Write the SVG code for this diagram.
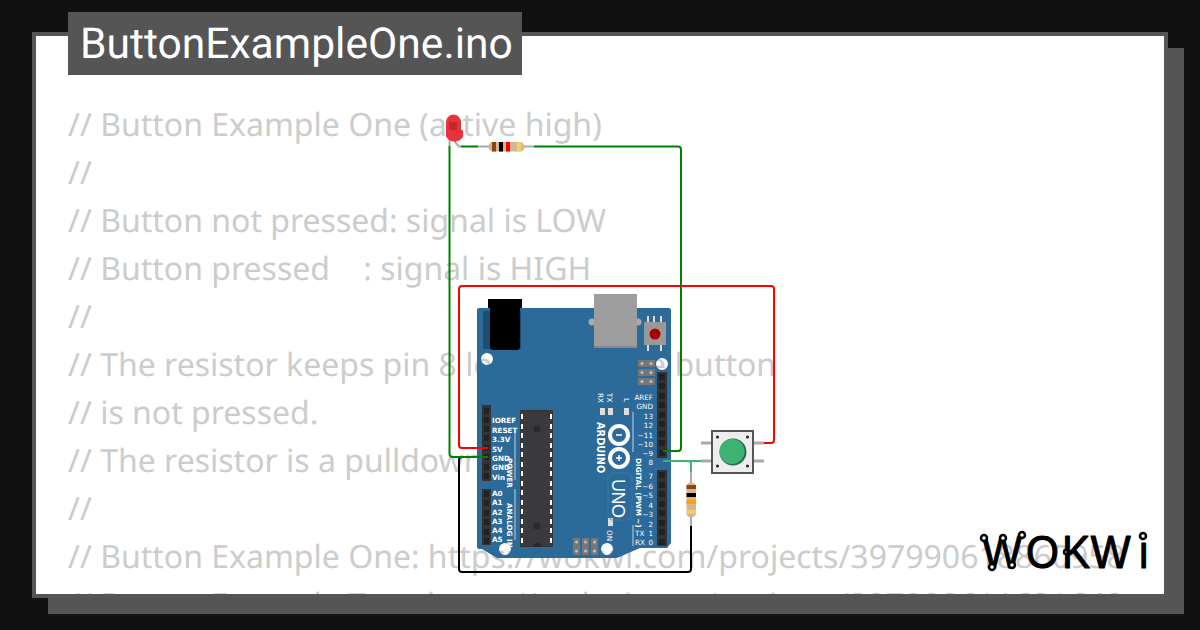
<svg xmlns="http://www.w3.org/2000/svg" width="1200" height="630" viewBox="0 0 1200 630">
<style>
.code{font:32px "Noto Sans",sans-serif;fill:#ccc;text-rendering:geometricPrecision}
.code text{opacity:.99}
.title{font:42.6px Roboto,sans-serif;fill:#fff;text-rendering:geometricPrecision}
.w{fill:none;stroke-width:2;stroke-linejoin:round}
.lead{stroke:#aaa;stroke-width:2;fill:none}
.pl{font:bold 7.2px "DejaVu Sans",sans-serif;fill:#fff}
.pr{font:7.2px "DejaVu Sans",sans-serif;fill:#fff}
.hdr{fill:#333}
.pin{fill:#222}
.sq{fill:#777}
.dot{fill:#c0c0c0}
.ic{fill:#fff}
.body{fill:#d5b597}
</style>
<rect width="1200" height="630" fill="#111"/>
<rect x="48" y="48" width="1136" height="566" fill="#555"/>
<rect x="32" y="32" width="1136" height="566" fill="#555"/>
<rect x="36" y="36" width="1128" height="558" fill="#fff"/>
<g id="code" class="code">
<text x="68" y="136">// Button Example One (active high)</text>
<text x="68" y="184">//</text>
<text x="68" y="232">// Button not pressed: signal is LOW</text>
<text x="68" y="280" xml:space="preserve">// Button pressed    : signal is HIGH</text>
<text x="68" y="328">//</text>
<text x="68" y="376">// The resistor keeps pin 8 low when the button</text>
<text x="68" y="424">// is not pressed.</text>
<text x="68" y="472">// The resistor is a pulldown resistor.</text>
<text x="68" y="520">//</text>
<text x="68" y="568">// Button Example One: https://wokwi.com/projects/397990618860958</text>
<svg x="0" y="0" width="1200" height="594" viewBox="0 0 1200 594"><text x="68" y="616">// Button Example Two: https://wokwi.com/projects/397990611631640</text></svg>
</g>
<g id="title"><rect x="68" y="12" width="454" height="63" fill="#555"/><text class="title" x="80" y="58">ButtonExampleOne.ino</text></g>

<g id="arduino">
<path fill-rule="evenodd" d="M479,308H669a2,2 0 0 1 2,2V543l-4,5H640l-23,10H497l-15,-9h-3a2,2 0 0 1 -2,-2V310a2,2 0 0 1 2,-2ZM481,359a6,6 0 1 0 12,0a6,6 0 1 0 -12,0ZM656,364a6,6 0 1 0 12,0a6,6 0 1 0 -12,0ZM499,549a6,6 0 1 0 12,0a6,6 0 1 0 -12,0ZM601,549a6,6 0 1 0 12,0a6,6 0 1 0 -12,0Z" fill="#2c6a9a"/>
<path d="M483,311H521V349H483Z" fill="#1f4d70"/>
<rect x="488" y="299" width="34" height="9" fill="#000"/>
<rect x="490" y="299" width="30" height="51" rx="3" fill="#000"/>
<circle cx="592" cy="322" r="3.500" fill="#aaa"/><circle cx="638" cy="322" r="3.500" fill="#aaa"/>
<rect x="594" y="294" width="43" height="54" fill="#9d9d9d"/><rect x="594" y="346" width="43" height="2" fill="#888"/>
<path d="M648,316v6M654,316v6M661,316v6M648,345v6M661,345v6" stroke="#ddd" stroke-width="2"/>
<rect x="644" y="322" width="22" height="23" fill="#999"/><circle cx="655" cy="334" r="5.500" fill="#a00"/>
<g class="sq"><rect x="638" y="360" width="17" height="7"/><rect x="638" y="369" width="17" height="7"/><rect x="638" y="378" width="17" height="7"/></g>
<g class="dot"><circle cx="642" cy="363.500" r="1.500"/><circle cx="651" cy="363.500" r="1.500"/><circle cx="642" cy="372.500" r="1.500"/><circle cx="651" cy="372.500" r="1.500"/><circle cx="642" cy="381.500" r="1.500"/><circle cx="651" cy="381.500" r="1.500"/></g>
<g class="sq"><rect x="573" y="538" width="7" height="17"/><rect x="582" y="538" width="7" height="17"/><rect x="591" y="538" width="7" height="17"/></g>
<g class="dot"><circle cx="576.500" cy="542" r="1.500"/><circle cx="576.500" cy="551" r="1.500"/><circle cx="585.500" cy="542" r="1.500"/><circle cx="585.500" cy="551" r="1.500"/><circle cx="594.500" cy="542" r="1.500"/><circle cx="594.500" cy="551" r="1.500"/></g>
<g class="hdr"><rect x="482" y="405" width="9" height="76"/><rect x="482" y="489" width="9" height="56"/><rect x="657" y="372" width="10" height="86"/><rect x="657" y="470" width="10" height="76"/></g>
<g class="pin"><path d="M484,408h5v6h-5zM484,417h5v6h-5zM484,426h5v6h-5zM484,435h5v6h-5zM484,445h5v6h-5zM484,454h5v6h-5zM484,464h5v6h-5zM484,473h5v6h-5zM484,491h5v6h-5zM484,500h5v6h-5zM484,510h5v6h-5zM484,519h5v6h-5zM484,529h5v6h-5zM484,538h5v6h-5zM659,374h6v6h-6zM659,383h6v6h-6zM659,393h6v6h-6zM659,402h6v6h-6zM659,412h6v6h-6zM659,421h6v6h-6zM659,431h6v6h-6zM659,440h6v6h-6zM659,450h6v6h-6zM659,472h6v6h-6zM659,482h6v6h-6zM659,491h6v6h-6zM659,501h6v6h-6zM659,510h6v6h-6zM659,520h6v6h-6zM659,529h6v6h-6zM659,539h6v6h-6z"/></g>
<g class="pl">
<text x="492" y="423">IOREF</text><text x="492" y="433">RESET</text><text x="492" y="442">3.3V</text><text x="492" y="452">5V</text><text x="492" y="461">GND</text><text x="492" y="470">GND</text><text x="492" y="480">Vin</text>
<text x="492" y="496">A0</text><text x="492" y="505">A1</text><text x="492" y="515">A2</text><text x="492" y="524">A3</text><text x="492" y="533">A4</text><text x="492" y="542">A5</text>
<text transform="translate(507,458) rotate(90)">POWER</text><text transform="translate(507,503) rotate(90)">ANALOG IN</text>
<text transform="translate(636,458) rotate(90)">DIGITAL (PWM ~)</text>
</g>
<path d="M515,431V480M515,489V540M633,412V452M633,525V546" stroke="#fff" stroke-width=".7"/>
<rect x="520" y="410" width="33" height="137" rx="1" fill="#333"/>
<rect x="521" y="411" width="31" height="135" fill="#3a3a3c"/>
<g class="ic"><path d="M521,414h2v5h-2zM521,424h2v5h-2zM521,433h2v5h-2zM521,443h2v5h-2zM521,452h2v5h-2zM521,462h2v5h-2zM521,471h2v5h-2zM521,481h2v5h-2zM521,490h2v5h-2zM521,500h2v5h-2zM521,509h2v5h-2zM521,519h2v5h-2zM521,528h2v5h-2zM521,538h2v5h-2zM550,414h2v5h-2zM550,424h2v5h-2zM550,433h2v5h-2zM550,443h2v5h-2zM550,452h2v5h-2zM550,462h2v5h-2zM550,471h2v5h-2zM550,481h2v5h-2zM550,490h2v5h-2zM550,500h2v5h-2zM550,509h2v5h-2zM550,519h2v5h-2zM550,528h2v5h-2zM550,538h2v5h-2z"/></g>
<circle cx="537" cy="429" r="3.500" fill="#2a2a2c"/><circle cx="537" cy="526" r="3.500" fill="#2a2a2c"/><path d="M533,547a4,4 0 0 1 8,0Z" fill="#2a2a2c"/>
<g class="pr" text-anchor="end">
<text x="653" y="400">AREF</text><text x="653" y="409">GND</text><text x="653" y="419">13</text><text x="653" y="428">12</text><text x="653" y="438">~11</text><text x="653" y="447">~10</text><text x="653" y="456">~9</text><text x="653" y="465">8</text>
<text x="653" y="479">7</text><text x="653" y="489">~6</text><text x="653" y="498">~5</text><text x="653" y="508">4</text><text x="653" y="517">~3</text><text x="653" y="527">2</text><text x="653" y="536">1</text><text x="653" y="545">0</text>
</g>
<g class="pr"><text x="635" y="536">TX</text><text x="635" y="545">RX</text>
<text transform="translate(598,393) rotate(90)">RX</text><text transform="translate(607,393) rotate(90)">TX</text><text transform="translate(624,398) rotate(90)">L</text>
<text transform="translate(607,530) rotate(90)">ON</text></g>
<g fill="#ddd"><rect x="600" y="408" width="5" height="7"/><rect x="608" y="408" width="5" height="7"/><rect x="624" y="408" width="5" height="7"/><rect x="608" y="518" width="5" height="8"/></g>
<g fill="none" stroke="#fff" stroke-width="4"><circle cx="619" cy="435" r="9"/><circle cx="619" cy="458" r="9"/></g>
<path d="M616,435h6M619,455v6M616,458h6" stroke="#fff" stroke-width="1.500"/>
<text transform="translate(597,422) rotate(90)" style="font:bold 9.800px 'DejaVu Sans',sans-serif;fill:#fff">ARDUINO</text>
<rect x="608" y="473" width="24" height="47" rx="5" fill="none" stroke="#3c7cad" stroke-width=".8"/>
<text transform="translate(612,479) rotate(90)" style="font:18px 'Liberation Sans',sans-serif;fill:#fff" textLength="39">UNO</text>
</g>

<g id="led1">
<path class="lead" d="M449.500,136V146M455,136V142L459,146.500H461"/>
<path d="M446,122a7.500,7.500 0 0 1 15,0V129l2,2v3a8,6 0 0 1 -17,2Z" fill="#e8333a"/>
<path d="M449,122h8v8h-8Z" fill="#c4282f"/>
</g>
<g id="connectors">
<path class="w" stroke="#000" d="M488,457H462a3,3 0 0 0 -3,3V569a3,3 0 0 0 3,3H688a3,3 0 0 0 3,-3V526"/>
<path class="w" stroke="#008000" d="M461,146.500H478M534,146.500H678a3,3 0 0 1 3,3V448a3,3 0 0 1 -3,3H663"/>
<path class="w" stroke="#008000" d="M449.500,146V454a3,3 0 0 0 3,3H488"/>
<path class="w" stroke="#f00" d="M488,448H462a3,3 0 0 1 -3,-3V289a3,3 0 0 1 3,-3H771a3,3 0 0 1 3,3V440a3,3 0 0 1 -3,3H764"/>
<path class="w" stroke="#3cb371" d="M663,461H701M688,461a3,3 0 0 1 3,3V472"/>
</g>
<g id="r1">
<path class="lead" d="M478,146.500H534"/>
<path class="body" d="M492,142H521a5,5 0 0 1 0,9.500H492a5,5 0 0 1 0,-9.500Z"/>
<rect x="492" y="142" width="4" height="9.500" fill="#8b4513"/><rect x="499" y="142" width="4" height="9.500" fill="#000"/><rect x="506" y="142" width="4" height="9.500" fill="#f00"/><rect x="517" y="142" width="4" height="9.500" fill="#f0d264"/>
</g>
<g id="r2">
<path class="lead" d="M691,472V526"/>
<path class="body" d="M686.500,486a5,5 0 0 1 9.500,0V514a5,5 0 0 1 -9.500,0Z"/>
<rect x="686.500" y="485" width="9.500" height="4" fill="#8b4513"/><rect x="686.500" y="493" width="9.500" height="4" fill="#000"/><rect x="686.500" y="500" width="9.500" height="4" fill="#ffa000"/><rect x="686.500" y="510" width="9.500" height="4" fill="#f0d264"/>
</g>
<g id="btn1">
<path d="M701,443h11M701,461h11M753,443h11M753,461h11" stroke="#aaa" stroke-width="3"/>
<rect x="712" y="431" width="41" height="42" fill="#ededed" stroke="#555" stroke-width="2"/>
<g fill="#222"><circle cx="717.500" cy="437" r="1.500"/><circle cx="747.500" cy="437" r="1.500"/><circle cx="717.500" cy="466" r="1.500"/><circle cx="747.500" cy="466" r="1.500"/></g>
<circle cx="733" cy="452" r="13.500" fill="#2d6b4b"/><circle cx="732" cy="451.500" r="12.500" fill="#3cb371"/>
</g>
<g id="logo">
<text transform="scale(.9,1)" x="1091 1140 1180 1212 1265.600" y="568" style="font:47px 'Liberation Sans',sans-serif;fill:#000;stroke:#000;stroke-width:1.100;stroke-linejoin:round">WOKWi</text>
<g fill="#fff" stroke="#000" stroke-width="2.500"><circle cx="984" cy="538" r="3"/><circle cx="1003" cy="538" r="3"/><circle cx="1022" cy="535" r="3"/><circle cx="992" cy="567" r="3"/><circle cx="1012" cy="565" r="3"/><circle cx="1066" cy="552" r="2"/><circle cx="1143" cy="536" r="3"/></g>
</g>
</svg>
